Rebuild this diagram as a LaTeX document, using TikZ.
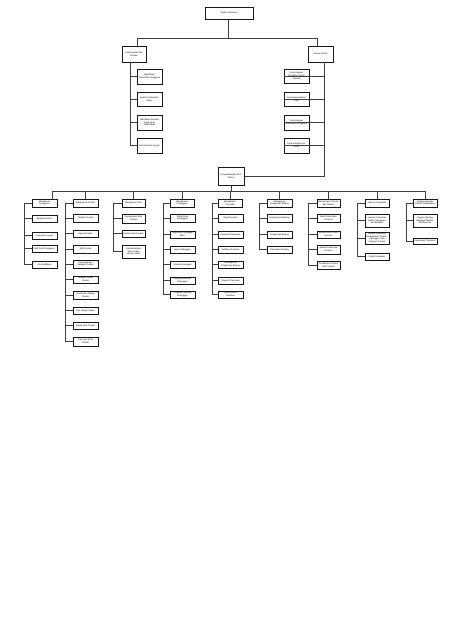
\documentclass[tikz,border=0pt]{standalone}
\usepackage{fontspec}
\setmainfont{Liberation Sans}
\tikzset{
  bx/.style={draw=black!90,line width=1pt,fill=white,inner sep=0.2pt,align=center,
    font=\fontsize{2.2}{2.7}\selectfont},
  ln/.style={draw=black!75,line width=0.9pt},
}
\newcommand\mybx[6]{%
  \pgfmathsetmacro\bw{#4-#2}\pgfmathsetmacro\bh{#5-#3}%
  \pgfmathsetmacro\bcx{(#2+#4)/2}\pgfmathsetmacro\bcy{(#3+#5)/2}%
  \node[bx,minimum width=\bw pt,minimum height=\bh pt] (#1) at (\bcx,\bcy) {#6};}
\newcommand\myspn[2]{%
  \foreach \n in {#2}{\draw[ln] (#1 |- \n.west) -- (\n.west);}}
\newcommand\myhd[5]{\mybx{#1}{#2}{199}{#3}{207}{#5}\draw[ln] (#4,191) -- (#4,199);}
\begin{document}
\begin{tikzpicture}[x=1pt,y=-1pt]
\useasboundingbox[fill=white] (0,0) rectangle (474,632);
% top
\mybx{top}{205}{7}{253}{19}{Sistem Informasi}
\mybx{pa}{122}{46}{146}{62}{Perencanaan dan\\Analisis}
\mybx{ds}{308}{46}{333}{62}{Desain Sistem}
\coordinate (tb) at (228,38);
\draw[ln] (top.south -| tb) -- (tb);
\draw[ln] (137,38) coordinate (tl) -- (317,38) coordinate (tr);
\draw[ln] (tl) -- (tl |- pa.north);
\draw[ln] (tr) -- (tr |- ds.north);
% left children
\mybx{pa1}{137}{69}{162}{84}{Identifikasi\\Kebutuhan Pengguna}
\mybx{pa2}{137}{92}{162}{106}{Analisis Kebutuhan\\Bisnis}
\mybx{pa3}{137}{115}{162}{130}{Identifikasi Sumber\\Daya yang\\Dibutuhkan}
\mybx{pa4}{137}{138}{162}{153}{Perencanaan Proyek}
\coordinate (ls) at (130,62);
\draw[ln] (ls) -- (ls |- pa4.west);
\myspn{ls}{pa1,pa2,pa3,pa4}
% right children
\mybx{ds1}{284}{69}{309}{83}{Perancangan\\Arsitektur Sistem\\Terpadu}
\mybx{ds2}{284}{92}{309}{106}{Perancangan Basis\\Data}
\mybx{ds3}{284}{115}{309}{130}{Perancangan\\Antarmuka Pengguna}
\mybx{ds4}{284}{138}{309}{153}{Perancangan Alur\\Kerja}
\coordinate (rs) at (324,62);
% middle
\mybx{mid}{218}{167}{244}{185}{Pengembangan Fitur\\Sistem}
\draw[ln] (rs) -- (rs |- mid.east) -- (mid.east);
\myspn{rs}{ds1,ds2,ds3,ds4}
% bus
\coordinate (md) at (231,191);
\draw[ln] (md |- mid.south) -- (md);
\draw[ln] (52,191) -- (425,191);
% columns
\myhd{h1}{32}{57}{52}{Manajemen\\Pengguna}
\myhd{h2}{73}{98}{85}{Manajemen Produk}
\myhd{h3}{122}{145}{133}{Manajemen Stok}
\myhd{h4}{170}{194}{182}{Manajemen\\Pelanggan}
\myhd{h5}{218}{242}{230}{Manajemen\\Transaksi}
\myhd{h6}{267}{292}{279}{Manajemen\\Pengiriman Barang}
\myhd{h7}{317}{340}{328}{Manajemen Promosi\\dan Diskon}
\myhd{h8}{365}{389}{377}{Laporan Penjualan}
\myhd{h9}{413}{437}{425}{Integrasi dengan\\Sistem Pembayaran}
% col 1
\mybx{a1}{32}{215}{57}{222}{Registrasi Akun}
\mybx{a2}{32}{232}{57}{239}{Login dan Logout}
\mybx{a3}{32}{245}{57}{252}{Edit Profil Pengguna}
\mybx{a4}{32}{261}{57}{268}{Atur Notifikasi}
\coordinate (s1) at (24,203);
\draw[ln] (s1) -- (s1 |- a4.west);
\myspn{s1}{h1,a1,a2,a3,a4}
% col 2
\mybx{b1}{73}{214}{98}{222}{Tambah Produk}
\mybx{b2}{73}{230}{98}{237}{Hapus Produk}
\mybx{b3}{73}{245}{98}{253}{Edit Produk}
\mybx{b4}{73}{260}{98}{268}{Pencarian dan\\Kategori Produk}
\mybx{b5}{73}{276}{98}{283}{Tampilan Detail\\Produk}
\mybx{b6}{73}{291}{98}{299}{Ulasan dan Rating\\Produk}
\mybx{b7}{73}{307}{98}{314}{Atur Harga Produk}
\mybx{b8}{73}{322}{98}{329}{Kelola Stok Produk}
\mybx{b9}{73}{337}{98}{346}{Filter dan Sortir\\Produk}
\coordinate (s2) at (65,203);
\draw[ln] (s2) -- (s2 |- b9.west);
\myspn{s2}{h2,b1,b2,b3,b4,b5,b6,b7,b8,b9}
% col 3
\mybx{c1}{122}{214}{145}{223}{Pengecekan Stok\\Produk}
\mybx{c2}{122}{230}{145}{237}{Update Stok Produk}
\mybx{c3}{122}{245}{145}{258}{Pemberitahuan\\Stok Produk\\Hampir Habis}
\coordinate (s3) at (113,203);
\draw[ln] (s3) -- (s3 |- c3.west);
\myspn{s3}{h3,c1,c2,c3}
% col 4
\mybx{d1}{170}{214}{195}{222}{Daftar Data\\Pelanggan}
\mybx{d2}{170}{231}{195}{238}{Registrasi Pelanggan\\Baru}
\mybx{d3}{170}{246}{195}{253}{Akun Pelanggan}
\mybx{d4}{170}{261}{195}{268}{Ulasan Pelanggan}
\mybx{d5}{170}{277}{195}{284}{Layanan Keluhan\\Pelanggan}
\mybx{d6}{170}{291}{195}{298}{Program Loyalitas\\Pelanggan}
\coordinate (s4) at (163,203);
\draw[ln] (s4) -- (s4 |- d6.west);
\myspn{s4}{h4,d1,d2,d3,d4,d5,d6}
% col 5
\mybx{e1}{218}{214}{243}{222}{Buat Pesanan}
\mybx{e2}{218}{231}{243}{238}{Proses Pembayaran}
\mybx{e3}{218}{246}{243}{253}{Verifikasi Pesanan}
\mybx{e4}{218}{261}{243}{268}{Pembayaran\\Pengiriman Barang}
\mybx{e5}{218}{277}{243}{284}{Riwayat Transaksi}
\mybx{e6}{218}{291}{243}{298}{Lacak Status\\Pesanan}
\coordinate (s5) at (212,203);
\draw[ln] (s5) -- (s5 |- e6.west);
\myspn{s5}{h5,e1,e2,e3,e4,e5,e6}
% col 6
\mybx{f1}{267}{214}{292}{222}{Pengemasan Barang}
\mybx{f2}{267}{231}{292}{238}{Pengiriman Barang}
\mybx{f3}{267}{246}{292}{253}{Pelacakan Barang}
\coordinate (s6) at (259,203);
\draw[ln] (s6) -- (s6 |- f3.west);
\myspn{s6}{h6,f1,f2,f3}
% col 7
\mybx{g1}{317}{214}{340}{222}{Buat Diskon dan\\Promosi}
\mybx{g2}{317}{231}{340}{238}{Kelola Kode Promo\\Voucher}
\mybx{g3}{317}{245}{340}{254}{Jadwal Diskon dan\\Promosi}
\mybx{g4}{317}{261}{340}{269}{Pendaftaran Diskon\\dan Promosi}
\coordinate (s7) at (308,203);
\draw[ln] (s7) -- (s7 |- g4.west);
\myspn{s7}{h7,g1,g2,g3,g4}
% col 8
\mybx{k1}{365}{214}{389}{227}{Laporan Penjualan\\Harian, Mingguan,\\dan Bulanan}
\mybx{k2}{365}{232}{389}{244}{Analisis Penjualan\\Berdasarkan Produk,\\Pelanggan, dan\\Kategori Produk}
\mybx{k3}{365}{253}{389}{260}{Grafik Penjualan}
\coordinate (s8) at (357,203);
\draw[ln] (s8) -- (s8 |- k3.west);
\myspn{s8}{h8,k1,k2,k3}
% col 9
\mybx{m1}{413}{214}{437}{227}{Integrasi dengan\\Berbagai Metode\\Pembayaran}
\mybx{m2}{413}{238}{437}{244}{Keamanan Transaksi}
\coordinate (s9) at (406,203);
\draw[ln] (s9) -- (s9 |- m2.west);
\myspn{s9}{h9,m1,m2}
\end{tikzpicture}
\end{document}
